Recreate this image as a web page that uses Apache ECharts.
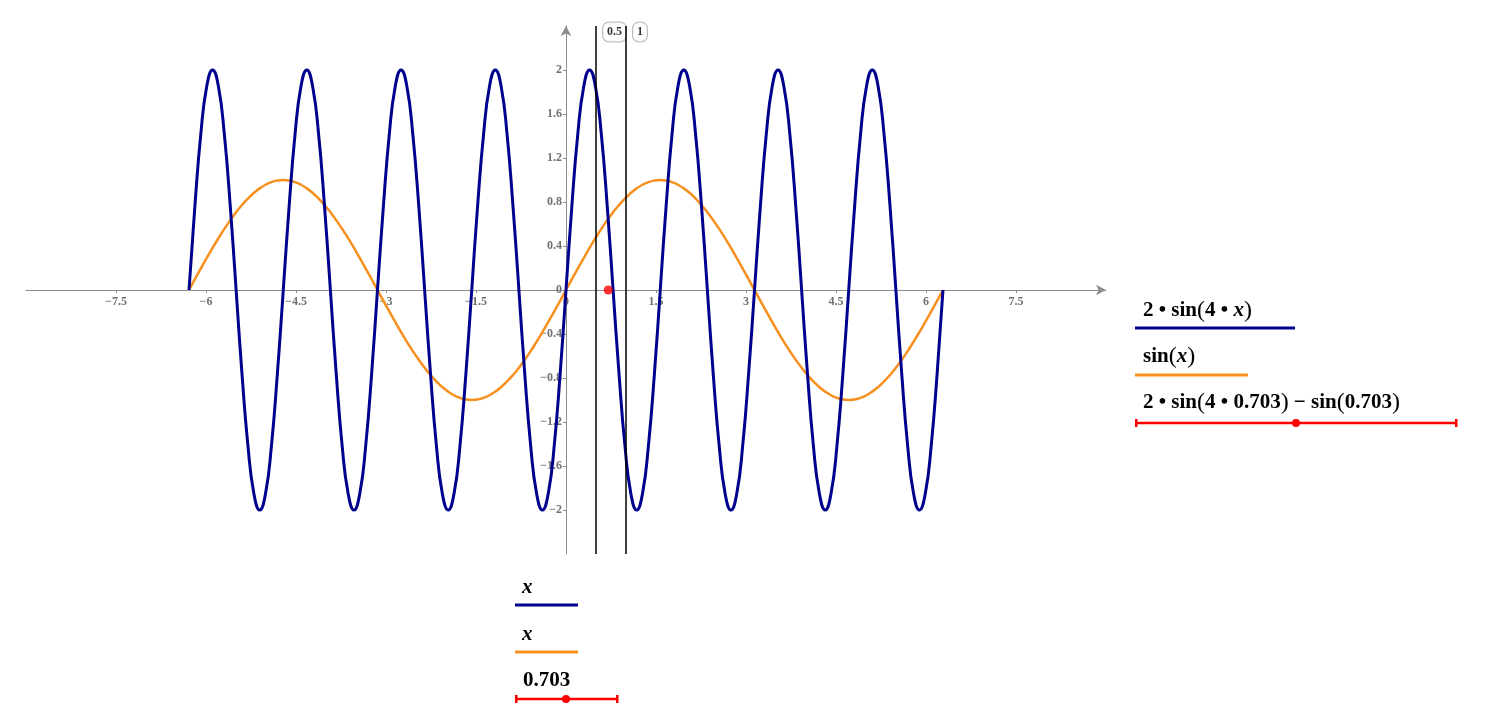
<!DOCTYPE html>
<html>
<head>
<meta charset="utf-8">
<script src="https://cdn.jsdelivr.net/npm/echarts@6/dist/echarts.min.js"></script>
<style>
html,body{margin:0;padding:0;background:#fff;}
#chart{width:1487px;height:717px;}
</style>
</head>
<body>
<div id="chart"></div>
<script>
// x samples (radians) along the plotted domain -2π..2π
const xs = [-6.283,-6.185,-6.087,-5.989,-5.890,-5.792,-5.694,-5.596,-5.498,-5.400,-5.301,-5.203,-5.105,-5.007,-4.909,-4.811,
  -4.712,-4.614,-4.516,-4.418,-4.320,-4.222,-4.123,-4.025,-3.927,-3.829,-3.731,-3.632,-3.534,-3.436,-3.338,-3.240,
  -3.142,-3.043,-2.945,-2.847,-2.749,-2.651,-2.553,-2.454,-2.356,-2.258,-2.160,-2.062,-1.963,-1.865,-1.767,-1.669,
  -1.571,-1.473,-1.374,-1.276,-1.178,-1.080,-0.982,-0.884,-0.785,-0.687,-0.589,-0.491,-0.393,-0.295,-0.196,-0.098,
  0,
  0.098,0.196,0.295,0.393,0.491,0.589,0.687,0.785,0.884,0.982,1.080,1.178,1.276,1.374,1.473,1.571,
  1.669,1.767,1.865,1.963,2.062,2.160,2.258,2.356,2.454,2.553,2.651,2.749,2.847,2.945,3.043,3.142,
  3.240,3.338,3.436,3.534,3.632,3.731,3.829,3.927,4.025,4.123,4.222,4.320,4.418,4.516,4.614,4.712,
  4.811,4.909,5.007,5.105,5.203,5.301,5.400,5.498,5.596,5.694,5.792,5.890,5.989,6.087,6.185,6.283];
// 2·sin(4·x)
const blueVals = [
  0,0.765,1.414,1.848,2,1.848,1.414,0.765,0,-0.765,-1.414,-1.848,-2,-1.848,-1.414,-0.765,
  0,0.765,1.414,1.848,2,1.848,1.414,0.765,0,-0.765,-1.414,-1.848,-2,-1.848,-1.414,-0.765,
  0,0.765,1.414,1.848,2,1.848,1.414,0.765,0,-0.765,-1.414,-1.848,-2,-1.848,-1.414,-0.765,
  0,0.765,1.414,1.848,2,1.848,1.414,0.765,0,-0.765,-1.414,-1.848,-2,-1.848,-1.414,-0.765,
  0,0.765,1.414,1.848,2,1.848,1.414,0.765,0,-0.765,-1.414,-1.848,-2,-1.848,-1.414,-0.765,
  0,0.765,1.414,1.848,2,1.848,1.414,0.765,0,-0.765,-1.414,-1.848,-2,-1.848,-1.414,-0.765,
  0,0.765,1.414,1.848,2,1.848,1.414,0.765,0,-0.765,-1.414,-1.848,-2,-1.848,-1.414,-0.765,
  0,0.765,1.414,1.848,2,1.848,1.414,0.765,0,-0.765,-1.414,-1.848,-2,-1.848,-1.414,-0.765,
  0];
// sin(x)
const orangeVals = [
  0,0.098,0.195,0.290,0.383,0.471,0.556,0.634,0.707,0.773,0.831,0.882,0.924,0.957,0.981,0.995,
  1,0.995,0.981,0.957,0.924,0.882,0.831,0.773,0.707,0.634,0.556,0.471,0.383,0.290,0.195,0.098,
  0,-0.098,-0.195,-0.290,-0.383,-0.471,-0.556,-0.634,-0.707,-0.773,-0.831,-0.882,-0.924,-0.957,-0.981,-0.995,
  -1,-0.995,-0.981,-0.957,-0.924,-0.882,-0.831,-0.773,-0.707,-0.634,-0.556,-0.471,-0.383,-0.290,-0.195,-0.098,
  0,0.098,0.195,0.290,0.383,0.471,0.556,0.634,0.707,0.773,0.831,0.882,0.924,0.957,0.981,0.995,
  1,0.995,0.981,0.957,0.924,0.882,0.831,0.773,0.707,0.634,0.556,0.471,0.383,0.290,0.195,0.098,
  0,-0.098,-0.195,-0.290,-0.383,-0.471,-0.556,-0.634,-0.707,-0.773,-0.831,-0.882,-0.924,-0.957,-0.981,-0.995,
  -1,-0.995,-0.981,-0.957,-0.924,-0.882,-0.831,-0.773,-0.707,-0.634,-0.556,-0.471,-0.383,-0.290,-0.195,-0.098,
  0];
// cursor lines and marked point
const cursorX = [0.5, 1];
const cursorLabels = ['0.5', '1'];
const markX = 0.703;
const markY = 0;
// axes
const xMin = -9, xMax = 9, xStep = 1.5;
const yMin = -2.4, yMax = 2.4, yStep = 0.4;

const NAVY = '#00008f';
const ORANGE = '#f7901e';
const RED = '#ff0000';
const AXIS = '#8c8c8c';
const LABEL = '#707070';
const SERIF = '"Liberation Serif", "DejaVu Serif", serif';

const GRID = { left: 26, top: 26, width: 1080, height: 528 };

function fmt(v) {
  const s = String(Math.round(v * 100) / 100);
  return s.replace('-', '\u2212');
}

const chart = echarts.init(document.getElementById('chart'));
const axisLabelStyle = { color: LABEL, fontFamily: SERIF, fontWeight: 'bold', fontSize: 12 };

function hline(x1, x2, y, color, w) {
  return { type: 'line', shape: { x1: x1, y1: y, x2: x2, y2: y }, style: { stroke: color, lineWidth: w } };
}
function cap(x, y) {
  return { type: 'rect', shape: { x: x - 1, y: y - 4, width: 2.5, height: 8 }, style: { fill: RED } };
}
function dot(x, y) {
  return { type: 'circle', shape: { cx: x, cy: y, r: 4 }, style: { fill: RED } };
}
function richText(x, y, parts) {
  return {
    type: 'text', left: x, top: y,
    style: {
      rich: {
        b: { fontFamily: SERIF, fontWeight: 'bold', fontSize: 21, fill: '#000' },
        i: { fontFamily: SERIF, fontWeight: 'bold', fontStyle: 'italic', fontSize: 21, fill: '#000' },
        p: { fontFamily: SERIF, fontWeight: 'normal', fontSize: 24, fill: '#000' }
      },
      text: parts
    }
  };
}

// pixel offsets that put the axes through the origin
const yZeroFromBottom = GRID.height * (0 - yMin) / (yMax - yMin);
const xZeroFromLeft = GRID.width * (0 - xMin) / (xMax - xMin);

chart.setOption({
  animation: false,
  backgroundColor: '#fff',
  grid: Object.assign({ containLabel: false }, GRID),
  xAxis: {
    type: 'value', min: xMin, max: xMax, interval: xStep,
    position: 'bottom', offset: -yZeroFromBottom,
    axisLine: { onZero: false, symbol: ['none', 'arrow'], symbolSize: [8, 10], lineStyle: { color: AXIS, width: 1 } },
    axisTick: { show: true, length: 3, lineStyle: { color: AXIS } },
    axisLabel: Object.assign({ showMinLabel: false, showMaxLabel: false, margin: 6, formatter: fmt, hideOverlap: false }, axisLabelStyle),
    splitLine: { show: false }
  },
  yAxis: {
    type: 'value', min: yMin, max: yMax, interval: yStep,
    position: 'left', offset: -xZeroFromLeft,
    axisLine: { onZero: false, symbol: ['none', 'arrow'], symbolSize: [8, 10], lineStyle: { color: AXIS, width: 1 } },
    axisTick: { show: true, length: 3, lineStyle: { color: AXIS } },
    axisLabel: Object.assign({ showMinLabel: false, showMaxLabel: false, margin: 4, formatter: fmt, hideOverlap: false }, axisLabelStyle),
    splitLine: { show: false }
  },
  series: [
    {
      type: 'line', name: '2·sin(4·x)', smooth: 0.5, showSymbol: false,
      data: xs.map((x, i) => [x, blueVals[i]]),
      lineStyle: { color: NAVY, width: 3, join: 'round' }, itemStyle: { color: NAVY }, z: 3
    },
    {
      type: 'line', name: 'sin(x)', smooth: 0.5, showSymbol: false,
      data: xs.map((x, i) => [x, orangeVals[i]]),
      lineStyle: { color: ORANGE, width: 2.5, join: 'round' }, itemStyle: { color: ORANGE }, z: 2
    },
    {
      type: 'line', name: 'cursors', data: [], silent: true,
      markLine: {
        symbol: ['none', 'none'], silent: true, animation: false,
        label: { show: false },
        lineStyle: { color: '#000', width: 1.5, type: 'solid' },
        data: cursorX.map(v => ({ xAxis: v }))
      }
    },
    {
      type: 'scatter', name: 'cursorLabels', symbolSize: 0, clip: false, silent: true,
      data: cursorX.map((v, i) => [v, yMax, cursorLabels[i]]),
      label: {
        show: true, position: 'right', distance: 7, offset: [0, 6],
        formatter: p => p.value[2],
        fontFamily: SERIF, fontWeight: 'bold', fontSize: 12, color: '#000',
        backgroundColor: '#fff', borderColor: '#aaa', borderWidth: 1, borderRadius: 6,
        padding: [4, 4, 3, 4]
      }
    },
    {
      type: 'scatter', name: 'point', symbolSize: 9, z: 5,
      data: [[markX, markY]],
      itemStyle: { color: RED }
    }
  ],
  graphic: [
    richText(1143, 299, '{b|2 • sin}{p|(}{b|4 • }{i|x}{p|)}'),
    hline(1135, 1295, 328, NAVY, 3),
    richText(1143, 345, '{b|sin}{p|(}{i|x}{p|)}'),
    hline(1135, 1248, 375, ORANGE, 3),
    richText(1143, 391, '{b|2 • sin}{p|(}{b|4 • 0.703}{p|)}{b| − sin}{p|(}{b|0.703}{p|)}'),
    hline(1135, 1457, 423, RED, 2.5),
    cap(1136, 423), cap(1456, 423), dot(1296, 423),

    richText(522, 577, '{i|x}'),
    hline(515, 578, 605, NAVY, 3),
    richText(522, 624, '{i|x}'),
    hline(515, 578, 652, ORANGE, 3),
    richText(523, 670, '{b|0.703}'),
    hline(515, 618, 699, RED, 2.5),
    cap(516, 699), cap(617, 699), dot(566, 699)
  ]
});
</script>
</body>
</html>
